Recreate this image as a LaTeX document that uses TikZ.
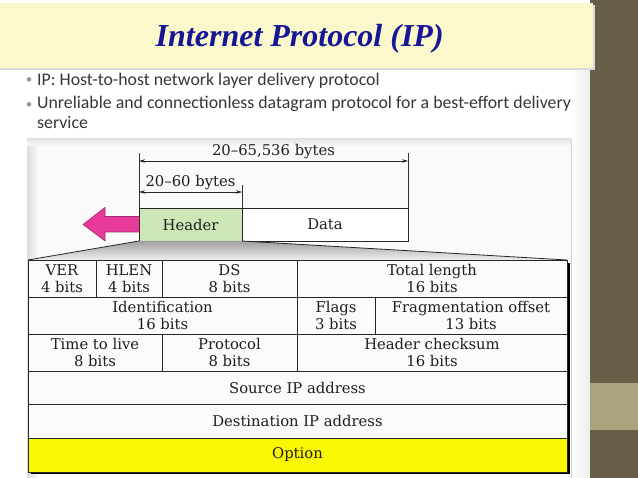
\documentclass[tikz,border=0pt]{standalone}
\usepackage{fontspec}
\setmainfont{DejaVu Serif}
\newfontfamily\titlefont{Liberation Serif}
\newfontfamily\slidefont{Carlito}
\usepackage{tikz}
\usetikzlibrary{arrows.meta,positioning,calc}
\definecolor{bandbrown}{RGB}{103,94,72}
\definecolor{bandtan}{RGB}{169,164,126}
\definecolor{titleyellow}{RGB}{251,248,204}
\definecolor{titleblue}{RGB}{22,22,150}
\definecolor{hdrgreen}{RGB}{205,232,182}
\definecolor{arrowpink}{RGB}{232,58,155}
\definecolor{optyellow}{RGB}{250,248,0}
\definecolor{celltext}{RGB}{30,30,30}
\definecolor{slidetext}{RGB}{55,55,55}

\begin{document}
\begin{tikzpicture}[
x=1pt,y=-1pt,
cell/.style={draw=black!85,line width=0.8pt,fill=white!97!gray,inner sep=0pt,outer sep=0pt,
  minimum height=#1,align=center,text=celltext,anchor=north west,
  font=\fontsize{14.8}{17}\selectfont},
bullet/.style={text=gray!80,font=\slidefont\fontsize{13}{15}\selectfont},
point/.style={anchor=north west,align=left,text=slidetext,font=\slidefont\fontsize{17.8}{19.5}\selectfont,inner sep=0pt},
ext/.style={draw=black!80,line width=0.7pt},
dim/.style={{Stealth[length=6pt,width=3.5pt]}-{Stealth[length=6pt,width=3.5pt]},line width=0.7pt,black!85},
dimlabel/.style={above=0.5pt,inner sep=1pt,text=celltext,font=\fontsize{14.8}{16}\selectfont}
]
\useasboundingbox (0,0) rectangle (638,478);

% slide background
\fill[white] (0,0) rectangle (590,478);
\shade[left color=white,right color=gray!14] (571,70) rectangle (590,478);
\fill[bandbrown] (590,0) rectangle (638,478);
\fill[bandtan] (590,383) rectangle (638,430);

% title bar
\fill[gray!30] (0,5) rectangle (595,70);
\node[fill=titleyellow,minimum width=593pt,minimum height=65pt,anchor=north west,inner sep=0pt] (titlebar) at (0,3) {};
\node[text=titleblue,font=\titlefont\bfseries\itshape\fontsize{32}{36}\selectfont] (title) at ($(titlebar.center)+(3,3)$) {Internet Protocol (IP)};

% bullet points
\node[point] (p1) at (37,73) {IP: Host-to-host network layer delivery protocol};
\node[point] (p2) at (37,96) {Unreliable and connectionless datagram protocol for a best-effort delivery\\service};
\node[bullet] at ($(p1.west)+(-8,0)$) {•};
\node[bullet] at ($(p2.north west)+(-8,10)$) {•};

% figure panel
\fill[white!96!gray] (27,139) rectangle (571,478);
\shade[left color=gray!28,right color=white!96!gray] (27,139) rectangle (38,478);
\shade[top color=gray!22,bottom color=white!96!gray] (27,139) rectangle (571,146);
\draw[gray!35] (571,139) -- (571,478);

% datagram
\node[cell=33pt,minimum width=103pt,fill=hdrgreen,anchor=north west] (hdr) at (139,208) {Header};
\node[cell=33pt,minimum width=166pt,fill=white,right=0pt of hdr] (data) {Data};

\draw[ext] (hdr.north west) -- ++(0,-55) coordinate (lt);
\draw[ext] (data.north east) -- ++(0,-55) coordinate (rt);
\draw[ext] (hdr.north east) -- ++(0,-23) coordinate (mt);
\draw[dim] ($(lt)+(0,8)$) -- node[dimlabel]{20–65,536 bytes} ($(rt)+(0,8)$);
\draw[dim] ($(lt)+(0,39)$) -- node[dimlabel]{20–60 bytes} ($(mt)+(0,7)$);

% outgoing arrow
\draw[fill=arrowpink,draw=arrowpink!70!black,line width=0.6pt]
  ($(hdr.west)+(0,-8)$) -- ++(-34,0) -- ++(0,-9) -- (83,224.5) -- (105,241)
  -- ++(0,-9) -- ($(hdr.west)+(0,7.5)$);

% zoom wedge
\shade[top color=gray!75,bottom color=gray!12] (hdr.south west) -- (hdr.south east) -- (567,260) -- (28,260) -- cycle;
\draw[black!85,line width=0.8pt] (hdr.south west) -- (28,260);
\draw[black!85,line width=0.8pt] (hdr.south east) -- (567,260);

% header fields
\fill[black] (31,263) rectangle (569.5,474.5);
\node[cell=37pt,minimum width=68pt] (ver) at (28,260) {VER\\4 bits};
\node[cell=37pt,minimum width=66pt,right=0pt of ver] (hlen) {HLEN\\4 bits};
\node[cell=37pt,minimum width=135pt,right=0pt of hlen] (ds) {DS\\8 bits};
\node[cell=37pt,minimum width=270pt,right=0pt of ds] (totlen) {Total length\\16 bits};

\node[cell=37pt,minimum width=269pt] (ident) at (ver.south west) {Identification\\16 bits};
\node[cell=37pt,minimum width=78pt,right=0pt of ident] (flags) {Flags\\3 bits};
\node[cell=37pt,minimum width=192pt,right=0pt of flags] (fragoff) {Fragmentation offset\\13 bits};

\node[cell=37pt,minimum width=134pt] (ttl) at (ident.south west) {Time to live\\8 bits};
\node[cell=37pt,minimum width=135pt,right=0pt of ttl] (proto) {Protocol\\8 bits};
\node[cell=37pt,minimum width=270pt,right=0pt of proto] (hcheck) {Header checksum\\16 bits};

\node[cell=33pt,minimum width=539pt] (srcip) at (ttl.south west) {Source IP address};
\node[cell=34pt,minimum width=539pt] (dstip) at (srcip.south west) {Destination IP address};
\node[cell=34pt,minimum width=539pt,fill=optyellow] (option) at (dstip.south west) {Option};
\end{tikzpicture}
\end{document}
